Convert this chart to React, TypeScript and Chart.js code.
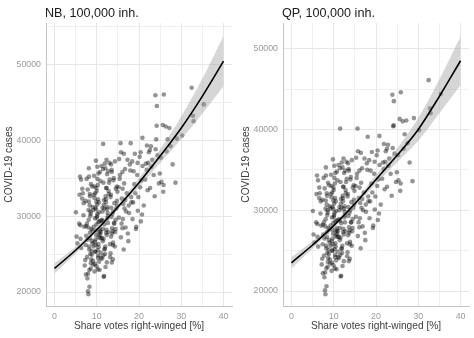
import React, { useEffect, useRef } from 'react';
import { Chart, registerables } from 'chart.js';

Chart.register(...registerables);
Chart.defaults.font.family = '"Liberation Sans", Arial, sans-serif';

// Share of right-winged votes [%] per district (shared by both panels)
const shareVotes = [
  6.12, 5.07, 6.71, 5.46, 6.93, 5.84, 6.28, 5.23, 6.55, 6.04,
  6.86, 6.33, 7.04, 6.58, 6.17, 5.92, 7.43, 7.16, 7.71, 7.38,
  7.93, 7.52, 7.68, 8.07, 7.34, 7.87, 7.61, 8.14, 7.79, 8.26,
  8.47, 8.03, 8.28, 8.61, 8.19, 8.38, 8.72, 8.09, 8.53, 8.34,
  8.42, 8.91, 8.17, 8.68, 8.83, 8.24, 8.57, 7.82, 8.96, 8.46,
  8.12, 8.77, 7.96, 8.39, 7.48, 8.64, 8.01, 8.85, 7.27, 8.58,
  8.36, 9.48, 9.12, 9.71, 9.03, 9.86, 9.27, 9.58, 9.19, 9.92,
  9.64, 10.27, 9.38, 10.13, 9.81, 10.42, 9.06, 9.95, 10.36, 9.23,
  10.48, 9.77, 10.21, 9.54, 10.63, 9.89, 10.07, 9.66, 10.31, 9.99,
  10.56, 10.93, 10.38, 10.81, 10.67, 11.04, 10.44, 10.72, 10.98, 10.59,
  10.18, 9.43, 10.86, 9.16, 10.52, 9.73, 10.04, 9.31, 10.69, 9.84,
  10.33, 9.61, 10.97, 10.09, 9.47, 10.76, 9.93, 10.61, 10.24, 9.78,
  10.41, 10.88, 9.57, 10.15, 11.63, 12.08, 11.27, 11.84, 11.42, 12.23,
  11.78, 12.64, 11.36, 12.17, 12.81, 11.59, 12.46, 11.13, 12.32, 11.91,
  11.52, 11.76, 12.39, 12.03, 11.21, 12.27, 11.48, 12.58, 11.67, 12.11,
  12.22, 13.06, 12.71, 12.49, 11.38, 12.86, 11.97, 13.14, 12.37, 11.56,
  12.92, 11.44, 12.53, 11.71, 12.06, 11.29, 12.77, 11.88, 12.43, 11.62,
  12.34, 11.81, 12.66, 11.49, 13.02, 12.19, 13.57, 13.28, 13.83, 13.41,
  13.62, 14.47, 13.91, 14.18, 13.36, 14.73, 14.04, 13.52, 14.29, 13.77,
  13.87, 14.36, 13.48, 14.62, 14.09, 13.71, 14.84, 13.26, 14.51, 13.95,
  13.58, 14.43, 13.17, 14.26, 14.77, 13.39, 14.91, 13.66, 14.14, 13.81,
  13.44, 16.38, 15.71, 16.83, 15.24, 16.57, 15.92, 16.12, 15.43, 16.69,
  15.31, 15.74, 15.63, 17.36, 15.88, 17.64, 16.27, 17.12, 16.48, 16.93,
  16.74, 15.52, 17.28, 16.06, 17.83, 16.41, 18.04, 15.18, 17.47, 16.19,
  18.21, 16.08, 17.58, 17.94, 19.36, 18.47, 19.71, 18.62, 19.13, 18.89,
  19.58, 20.83, 20.16, 18.39, 19.02, 20.44, 19.27, 20.71, 19.84, 20.29,
  20.57, 18.73, 19.66, 20.38, 20.81, 21.12, 18.16, 22.04, 21.46, 21.83,
  23.12, 22.58, 23.94, 22.83, 24.07, 24.18, 24.23, 23.88, 21.64, 22.31,
  23.46, 22.62, 24.71, 22.94, 21.87, 23.71, 24.39, 22.19, 24.93, 25.61,
  25.87, 26.32, 27.18, 26.79, 25.31, 25.74, 25.82, 26.54, 27.46, 28.63,
  28.97, 25.19, 27.96, 30.21, 32.46, 32.77, 32.92, 35.34,
];

// COVID-19 cases per 100,000 inhabitants (NB)
const casesNB = [
  28800, 30500, 33000, 26400, 31700, 29000, 34800, 27300, 32300, 35200,
  30100, 25800, 28600, 33600, 27000, 32800, 22300, 23500, 24600, 26200,
  20100, 27400, 29000, 30800, 32000, 33500, 34900, 36300, 21800, 22900,
  25000, 19700, 20700, 23800, 26000, 27100, 28300, 29500, 30600, 31400,
  32600, 33900, 35200, 24300, 24900, 25600, 23100, 26900, 28100, 30000,
  31900, 25400, 22400, 27800, 28700, 34200, 28500, 26700, 24200, 30300,
  32900, 22700, 24100, 25300, 26400, 27500, 28600, 29700, 30800, 31900,
  33000, 34100, 35300, 36500, 37300, 29200, 31200, 23400, 24800, 26000,
  27200, 28100, 25500, 26600, 27700, 28900, 30000, 31100, 32200, 33300,
  24000, 25200, 26300, 27500, 22900, 24500, 25900, 28300, 29400, 30500,
  30300, 32400, 34600, 23600, 31800, 26900, 29800, 32800, 28000, 30900,
  24500, 25300, 27900, 31500, 33900, 35800, 33700, 29300, 23000, 26200,
  35600, 27100, 23700, 34900, 22000, 23300, 24400, 25600, 26700, 27800,
  28900, 30000, 31100, 32200, 33300, 34400, 35500, 36600, 37400, 36900,
  39500, 22100, 23900, 26000, 27100, 28200, 29300, 30400, 31500, 32600,
  33700, 34800, 35900, 29700, 30600, 32900, 25000, 26300, 27500, 24800,
  34400, 28300, 31200, 32100, 36300, 29500, 27900, 25700, 30900, 27000,
  33700, 31000, 29100, 36200, 37000, 31800, 23900, 25100, 26200, 27300,
  28400, 29500, 30600, 31700, 32800, 33900, 35000, 36100, 37200, 28000,
  26500, 27900, 29900, 31000, 29100, 30300, 31400, 32500, 33600, 34700,
  35800, 28300, 24600, 26000, 32000, 36800, 33200, 27700, 29000, 24300,
  31100, 25600, 27200, 28500, 29800, 31000, 32300, 33600, 34900, 36200,
  37500, 38400, 39600, 27700, 29000, 30400, 31600, 33000, 34300, 30600,
  32100, 35400, 37400, 28400, 36800, 38200, 39600, 33800, 26700, 29600,
  31800, 35800, 31400, 36000, 28600, 29600, 30700, 31800, 33000, 34200,
  35400, 36600, 37800, 37200, 38200, 29300, 28300, 30200, 32500, 33800,
  34700, 35900, 37000, 38400, 40300, 31400, 32500, 33400, 34800, 36100,
  37400, 38700, 38800, 39200, 40100, 41900, 44500, 45900, 36900, 38400,
  35400, 33700, 34300, 36500, 39300, 32600, 38000, 37000, 35600, 42000,
  46000, 41800, 41600, 40100, 34500, 33200, 34100, 38500, 39200, 34400,
  40200, 37700, 36800, 40600, 46900, 43200, 42500, 44700,
];

// COVID-19 cases per 100,000 inhabitants (QP)
const casesQP = [
  28300, 29900, 32100, 26000, 31100, 28500, 33700, 27000, 31500, 34300,
  29600, 25500, 28100, 32800, 26700, 32000, 22200, 23300, 24400, 25800,
  20100, 27000, 28500, 30200, 31300, 32700, 34000, 35300, 21700, 22800,
  24700, 19600, 20600, 23600, 25600, 26700, 27800, 28900, 30000, 30700,
  31800, 33100, 34300, 24100, 24600, 25300, 23000, 26500, 27600, 29400,
  31200, 25100, 22300, 27300, 28200, 33400, 28000, 26300, 24000, 29700,
  32100, 22500, 23900, 25000, 26000, 27100, 28100, 29100, 30200, 31200,
  32200, 33300, 34400, 35500, 36300, 28600, 30500, 23200, 24500, 25600,
  26800, 27600, 25200, 26200, 27300, 28400, 29400, 30400, 31500, 32500,
  23800, 24900, 25900, 27000, 22700, 24200, 25500, 27800, 28800, 29900,
  29700, 31600, 33700, 23400, 31100, 26500, 29200, 32000, 27500, 30200,
  24200, 25000, 27400, 30800, 33000, 34800, 32800, 28700, 22800, 25800,
  34600, 26700, 23500, 34000, 21800, 23100, 24100, 25200, 26300, 27300,
  28400, 29400, 30400, 31500, 32500, 33500, 34600, 35600, 36400, 35900,
  40100, 21900, 23700, 25600, 26700, 27700, 28700, 29800, 30800, 31800,
  32900, 33900, 34900, 29100, 30000, 32100, 24700, 25900, 27000, 24500,
  33500, 27800, 30500, 31400, 35300, 28900, 27400, 25300, 30200, 26600,
  32900, 30300, 28500, 35200, 36000, 31100, 23700, 24800, 25800, 26900,
  27900, 28900, 30000, 31000, 32000, 33100, 34100, 35100, 36200, 27500,
  26100, 27400, 29300, 30300, 28500, 29700, 30700, 31700, 32800, 33800,
  34900, 27800, 24300, 25600, 31300, 35800, 32400, 27200, 28500, 24000,
  30400, 25300, 26800, 28000, 29200, 30300, 31500, 32800, 34000, 35200,
  36500, 37300, 40100, 27200, 28500, 29800, 30900, 32200, 33400, 30000,
  31400, 34500, 36400, 27900, 35800, 37100, 39100, 33000, 26300, 29000,
  31100, 34900, 30700, 35000, 28100, 29000, 30100, 31100, 32200, 33300,
  34500, 35600, 36800, 36200, 37200, 28800, 27800, 29600, 31700, 33000,
  33800, 34900, 36000, 37400, 39200, 30700, 31700, 32600, 33900, 35100,
  36400, 37600, 37700, 38100, 40400, 40500, 43500, 44300, 35900, 37300,
  34500, 32900, 33500, 35500, 38200, 31800, 37000, 36000, 34700, 41300,
  44600, 41000, 41100, 39400, 33700, 32400, 33300, 37600, 38300, 33600,
  41400, 36800, 35900, 39900, 46100, 42600, 42000, 44400,
];

// Fitted curve and confidence band, read at these x positions
const fitShare = [0, 5, 10, 15, 20, 25, 30, 35, 40];
const fitNB = [23100, 25500, 28200, 31200, 34400, 37900, 41600, 45800, 50400];
const upperNB = [23750, 25950, 28500, 31550, 35000, 38800, 43100, 48100, 53700];
const lowerNB = [22450, 25050, 27900, 30850, 33800, 37000, 40100, 43500, 47100];
const fitQP = [23500, 25700, 28100, 30800, 33800, 36800, 40000, 44100, 48500];
const upperQP = [24200, 26150, 28400, 31150, 34350, 37650, 41400, 46200, 51500];
const lowerQP = [22800, 25250, 27800, 30450, 33250, 35950, 38600, 42000, 45500];

const xTicks = [0, 5, 10, 15, 20, 25, 30, 35, 40];
const yTicksNB = [20000, 25000, 30000, 35000, 40000, 45000, 50000, 55000];
const yTicksQP = [20000, 25000, 30000, 35000, 40000, 45000, 50000];

const titlePlugin = {
  id: 'panelTitle',
  afterDraw(chart: any, _args: any, opts: any) {
    const ctx = chart.ctx;
    ctx.save();
    ctx.font = '12.6px "Liberation Sans", Arial, sans-serif';
    ctx.fillStyle = '#1a1a1a';
    ctx.textAlign = 'left';
    ctx.textBaseline = 'alphabetic';
    ctx.fillText(opts.text, chart.chartArea.left - 1, 16.5);
    ctx.restore();
  },
};

type PanelProps = {
  title: string;
  cases: number[];
  fit: number[];
  upper: number[];
  lower: number[];
  yTicks: number[];
  yMin: number;
  yMax: number;
};

function Panel({ title, cases, fit, upper, lower, yTicks, yMin, yMax }: PanelProps) {
  const ref = useRef<HTMLCanvasElement>(null);
  useEffect(() => {
    if (!ref.current) return;
    const pts = shareVotes.map((x, i) => ({ x, y: cases[i] }));
    const toPts = (arr: number[]) => fitShare.map((x, i) => ({ x, y: arr[i] }));
    const gridColor = (ctx: any) =>
      ctx.tick && ctx.tick.value % (ctx.scale.axis === 'x' ? 10 : 10000) === 0 ? '#e6e6e6' : '#efefef';
    const chart = new Chart(ref.current, {
      type: 'scatter',
      data: {
        datasets: [
          {
            type: 'line',
            data: toPts(fit),
            borderColor: '#000000',
            borderWidth: 1.6,
            pointRadius: 0,
            fill: false,
            cubicInterpolationMode: 'monotone',
          } as any,
          {
            type: 'line',
            data: toPts(upper),
            borderColor: 'rgba(0,0,0,0)',
            borderWidth: 0,
            pointRadius: 0,
            fill: '+1',
            backgroundColor: 'rgba(153,153,153,0.4)',
            cubicInterpolationMode: 'monotone',
          } as any,
          {
            type: 'line',
            data: toPts(lower),
            borderColor: 'rgba(0,0,0,0)',
            borderWidth: 0,
            pointRadius: 0,
            fill: false,
            cubicInterpolationMode: 'monotone',
          } as any,
          {
            data: pts,
            backgroundColor: 'rgba(0,0,0,0.42)',
            borderWidth: 0,
            pointRadius: 2.3,
          },
        ],
      },
      options: {
        responsive: false,
        animation: false,
        events: [],
        layout: { padding: { left: 0, right: 5, top: 23, bottom: 0 } },
        plugins: {
          legend: { display: false },
          tooltip: { enabled: false },
          panelTitle: { text: title },
        } as any,
        scales: {
          x: {
            type: 'linear',
            min: -2,
            max: 42,
            afterBuildTicks: (s: any) => {
              s.ticks = xTicks.map((v) => ({ value: v }));
            },
            afterFit: (s: any) => {
              s.height = 32;
            },
            ticks: {
              autoSkip: false,
              maxRotation: 0,
              padding: 5,
              color: '#9a9a9a',
              font: { size: 8.8 },
              callback: (v: any) => (Number(v) % 10 === 0 ? String(v) : ''),
            },
            grid: { color: gridColor, lineWidth: 1, drawTicks: false },
            border: { display: true, color: '#c4c4c4', width: 1 },
            title: {
              display: true,
              text: 'Share votes right-winged [%]',
              color: '#404040',
              font: { size: 10.2 },
              padding: { top: 0, bottom: 5.5 },
            },
          },
          y: {
            type: 'linear',
            min: yMin,
            max: yMax,
            afterBuildTicks: (s: any) => {
              s.ticks = yTicks.map((v) => ({ value: v }));
            },
            afterFit: (s: any) => {
              s.width = 46;
            },
            ticks: {
              autoSkip: false,
              padding: 5,
              color: '#9a9a9a',
              font: { size: 8.8 },
              callback: (v: any) => (Number(v) % 10000 === 0 ? String(v) : ''),
            },
            grid: { color: gridColor, lineWidth: 1, drawTicks: false },
            border: { display: true, color: '#c4c4c4', width: 1 },
            title: {
              display: true,
              text: 'COVID-19 cases',
              color: '#404040',
              font: { size: 10.2 },
              padding: { top: 3, bottom: 0 },
            },
          },
        },
      },
      plugins: [titlePlugin],
    } as any);
    return () => chart.destroy();
  }, []);
  return <canvas ref={ref} width={237} height={338} style={{ display: 'block', width: 237, height: 338 }} />;
}

export default function App() {
  return (
    <div style={{ position: 'absolute', left: 0, top: 0, width: 474, height: 338, display: 'flex', background: '#fff' }}>
      <Panel
        title="NB, 100,000 inh."
        cases={casesNB}
        fit={fitNB}
        upper={upperNB}
        lower={lowerNB}
        yTicks={yTicksNB}
        yMin={18160}
        yMax={55420}
      />
      <Panel
        title="QP, 100,000 inh."
        cases={casesQP}
        fit={fitQP}
        upper={upperQP}
        lower={lowerQP}
        yTicks={yTicksQP}
        yMin={18150}
        yMax={53170}
      />
    </div>
  );
}
